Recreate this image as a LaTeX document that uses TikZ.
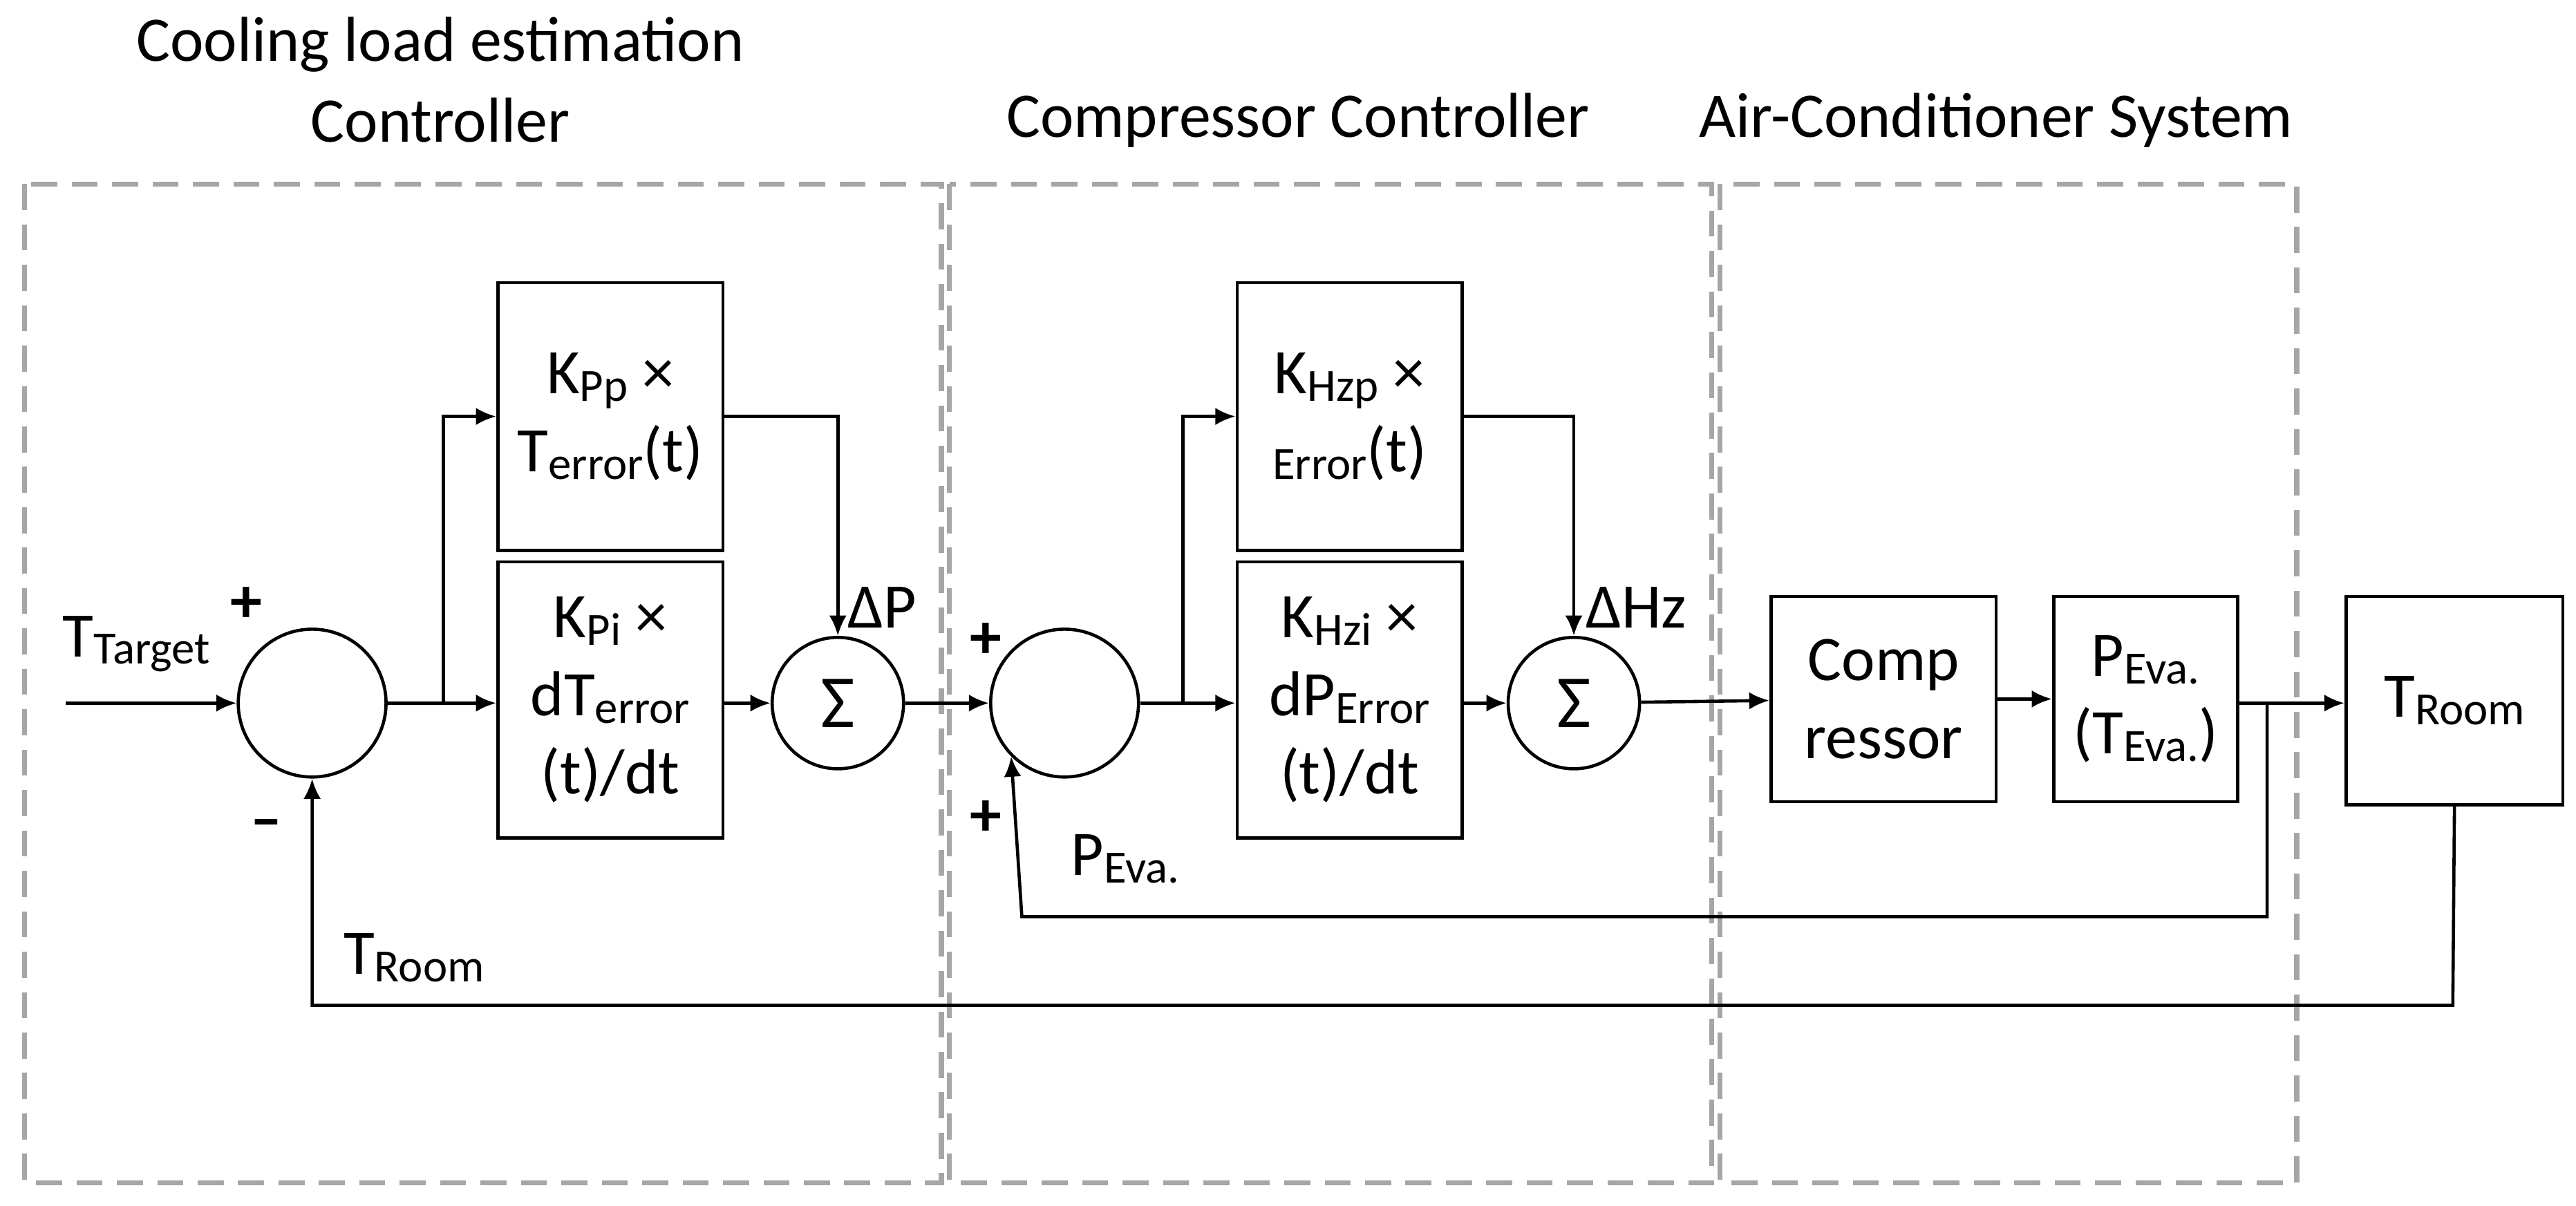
\documentclass[tikz,border=0pt]{standalone}
\usepackage{fontspec}
\setmainfont{Carlito}
\usetikzlibrary{arrows.meta}
\newcommand{\lowsub}[1]{\raisebox{-0.25ex}{\fontsize{16}{17}\selectfont #1}}
\begin{document}
\begin{tikzpicture}[x=0.02cm,y=-0.02cm,
  every node/.style={font=\fontsize{22}{27}\selectfont},
  blk/.style={draw,line width=1.1pt,align=center,inner sep=0pt},
  sum/.style={draw,circle,line width=1.1pt,minimum size=1.8cm,inner sep=0pt},
  sig/.style={draw,circle,line width=1.1pt,minimum size=1.6cm,inner sep=0pt,font=\fontsize{26}{28}\selectfont},
  grp/.style={draw=gray!70,dashed,line width=1.7pt,dash pattern=on 9pt off 5pt},
  wire/.style={line width=1.1pt},
  arr/.style={wire,-{Latex[length=7pt,width=6pt]}}]
\useasboundingbox (0,0) rectangle (1568,734);
\draw[grp] (15,112) rectangle (573,720);
\draw[grp] (578,112) rectangle (1042,720);
\draw[grp] (1047,112) rectangle (1398,720);
\node (t1) at (268,27) {Cooling load estimation};
\node (t2) at (268,73) {Controller};
\node (t3) at (790,73) {Compressor Controller};
\node (t4) at (1215,73) {Air-Conditioner System};
\node[sum] (c1) at (190,428) {};
\node[blk,minimum width=2.74cm,minimum height=3.26cm] (kpp) at (371.5,253.5) {K\lowsub{Pp} ×\\T\lowsub{error}(t)};
\node[blk,minimum width=2.74cm,minimum height=3.36cm] (kpi) at (371.5,426) {K\lowsub{Pi} ×\\dT\lowsub{error}\\(t)/dt};
\node[sig] (s1) at (510,428) {Σ};
\node[sum] (c2) at (648,428) {};
\node[blk,minimum width=2.74cm,minimum height=3.26cm] (khp) at (821.5,253.5) {K\lowsub{Hzp} ×\\\lowsub{Error}(t)};
\node[blk,minimum width=2.74cm,minimum height=3.36cm] (khi) at (821.5,426) {K\lowsub{Hzi} ×\\dP\lowsub{Error}\\(t)/dt};
\node[sig] (s2) at (958,428) {Σ};
\node[blk,minimum width=2.74cm,minimum height=2.5cm] (comp) at (1146.5,425.5) {Comp\\ressor};
\node[blk,minimum width=2.24cm,minimum height=2.5cm] (peva) at (1306,425.5) {P\lowsub{Eva.}\\(T\lowsub{Eva.})};
\node[blk,minimum width=2.64cm,minimum height=2.54cm] (troom) at (1494,426.5) {T\lowsub{Room}};
\coordinate (in) at (40,428);
\coordinate (b1) at (270,428);
\coordinate (b2) at (720,428);
\coordinate (b3) at (1380,428);
\node (lt) at (83,392) {T\lowsub{Target}};
\node (lp1) at (150,368) {\textbf{+}};
\node (lm1) at (162,505) {\textbf{–}};
\node (lp2) at (600,390) {\textbf{+}};
\node (lp3) at (600,498) {\textbf{+}};
\node (ldp) at (537,370) {ΔP};
\node (ldh) at (996,370) {ΔHz};
\node (lpe) at (685,523) {P\lowsub{Eva.}};
\node (ltr) at (252,583) {T\lowsub{Room}};
\draw[arr] (in) -- (c1);
\draw[wire] (c1) -- (b1);
\draw[arr] (b1) |- (kpp.west);
\draw[arr] (b1) -- (kpi.west |- b1);
\draw[arr] (kpp.east) -| (s1.north);
\draw[arr] (kpi.east |- s1) -- (s1);
\draw[arr] (s1) -- (c2);
\draw[wire] (c2) -- (b2);
\draw[arr] (b2) |- (khp.west);
\draw[arr] (b2) -- (khi.west |- b2);
\draw[arr] (khp.east) -| (s2.north);
\draw[arr] (khi.east |- s2) -- (s2);
\draw[arr] (s2) -- (comp);
\draw[arr] (comp) -- (peva);
\draw[arr] (peva.east |- b3) -- (troom.west |- b3);
\draw[arr] (b3) -- (1380,558) -- (622,558) -- (c2.south west);
\draw[arr] (troom.south) -- (1493,612) -- (190,612) -- (c1.south);
\end{tikzpicture}
\end{document}
